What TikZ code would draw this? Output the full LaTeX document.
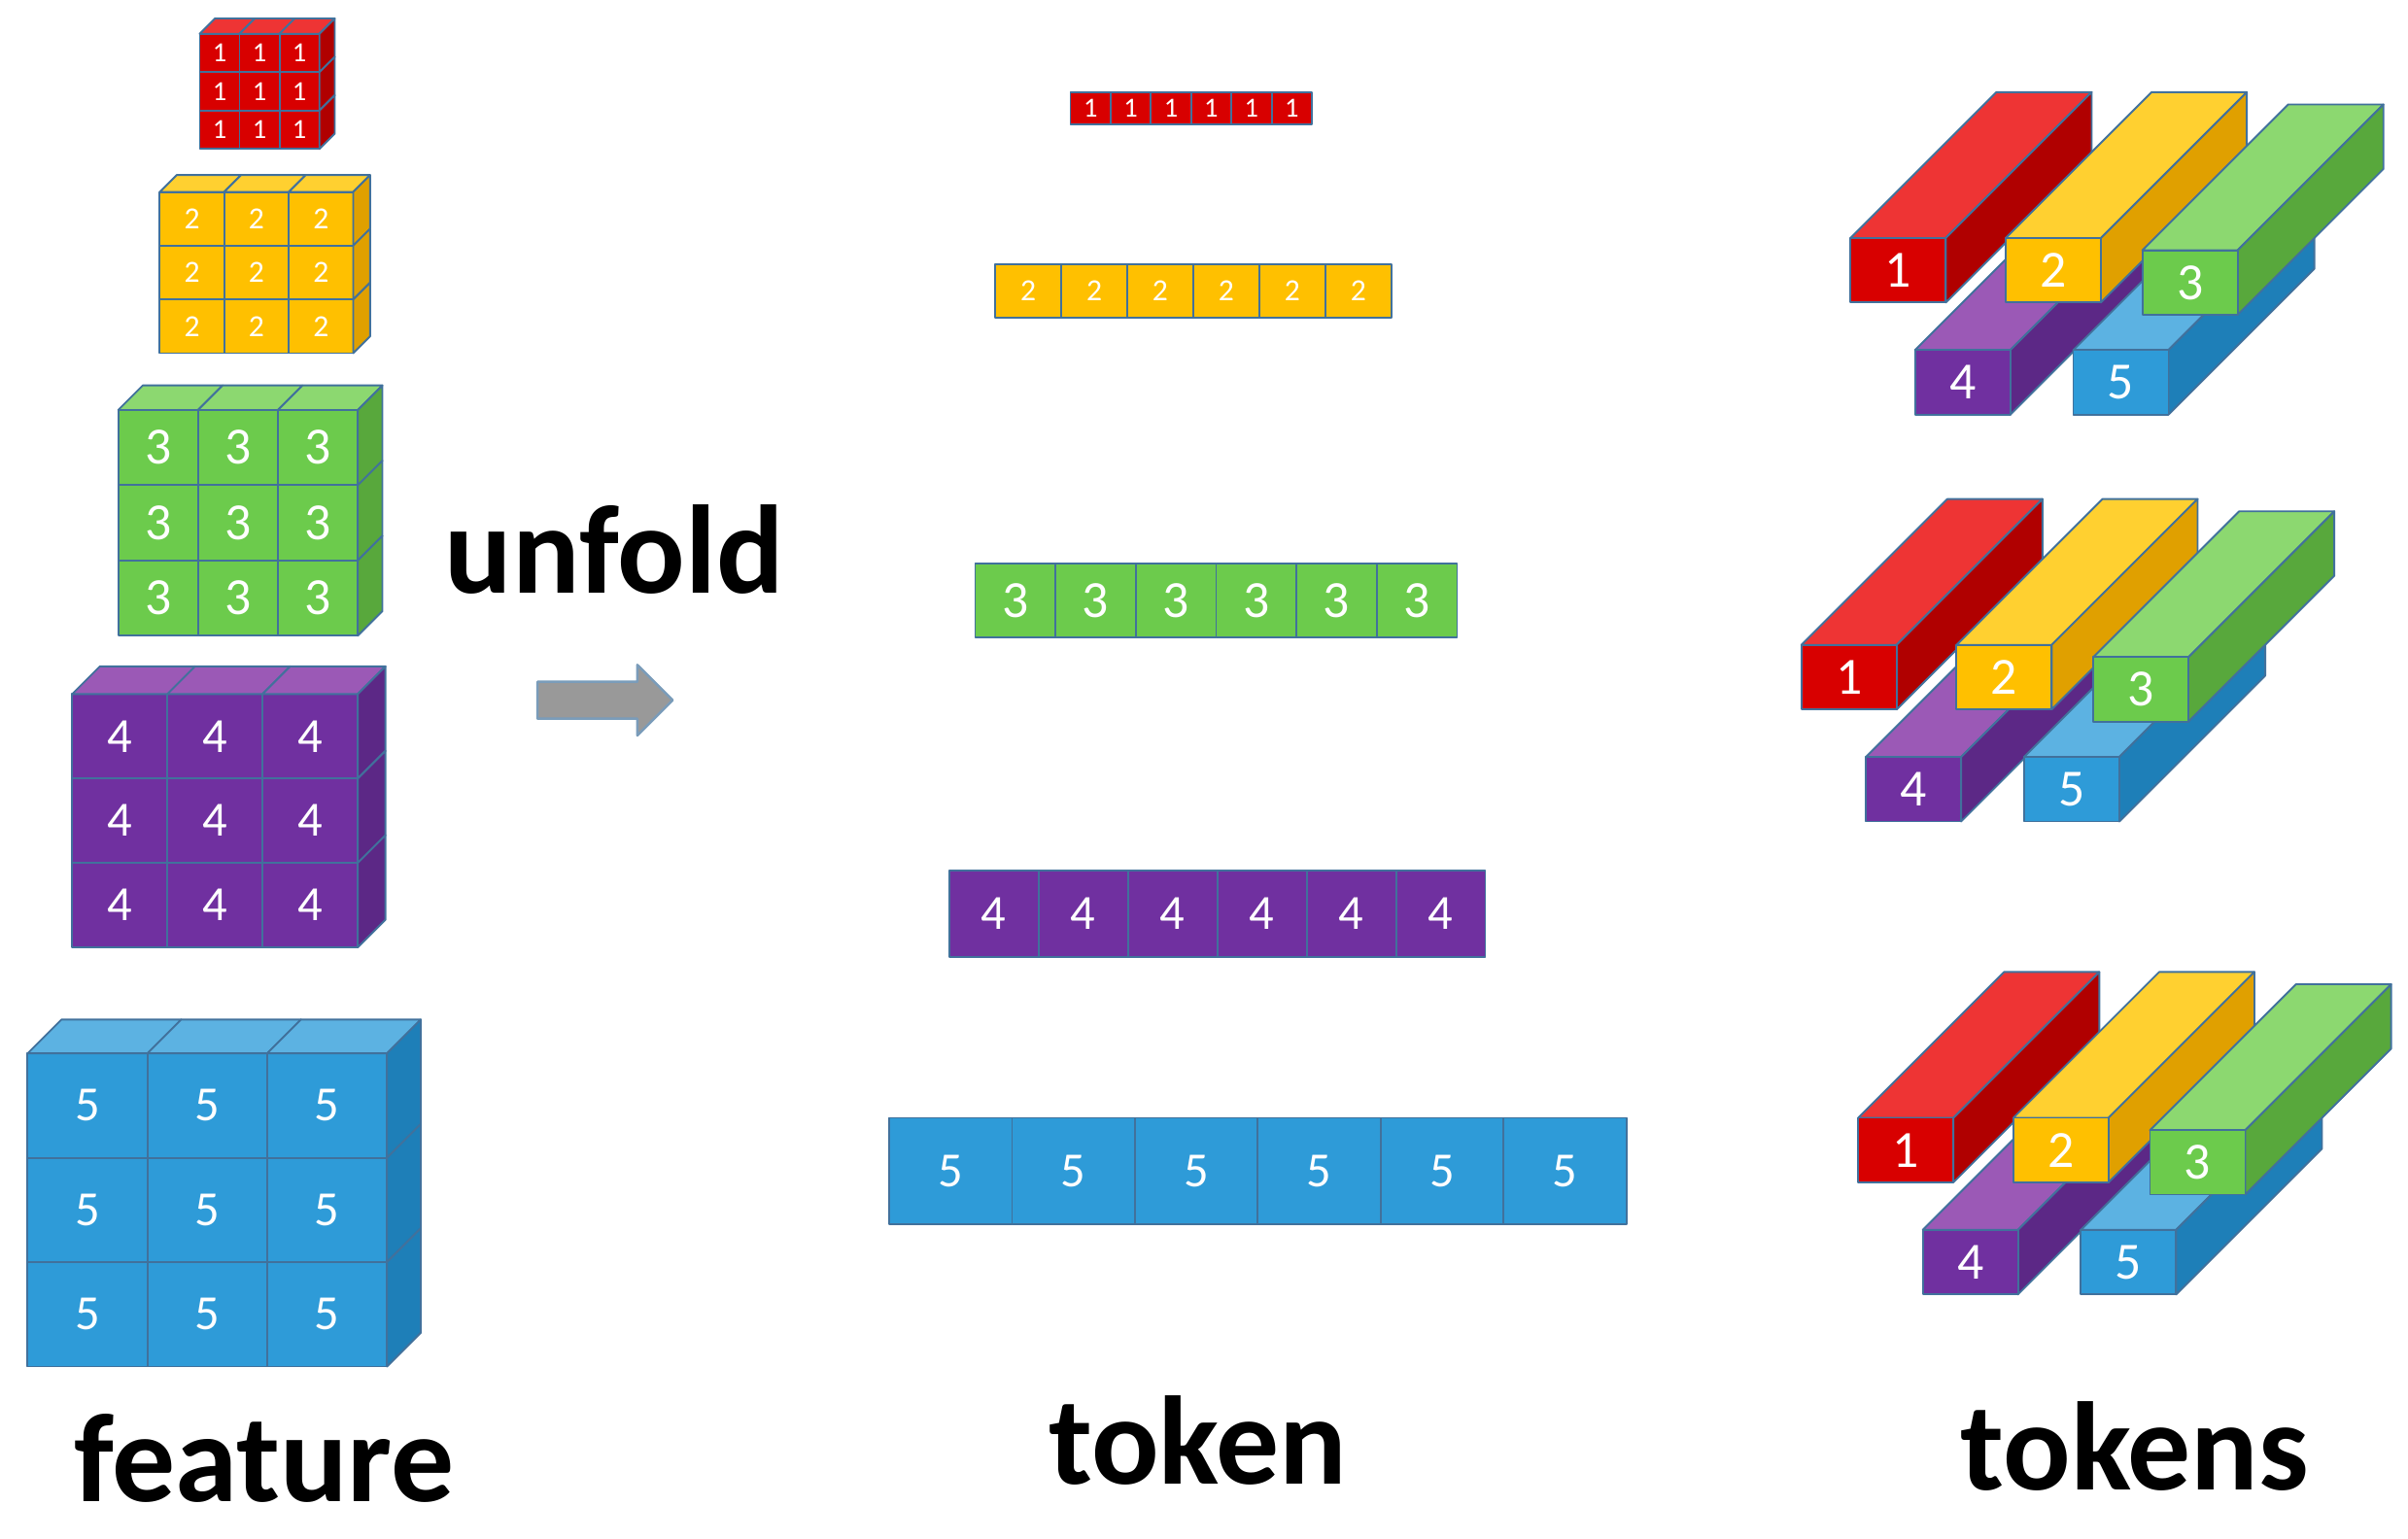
\documentclass[tikz,border=0pt]{standalone}
\usepackage{fontspec}
\setmainfont{Carlito}
\begin{document}
\begin{tikzpicture}[x=0.5pt,y=-0.5pt,line join=round,
  edge/.style={draw=edgec,line width=0.6pt},
  num/.style={text=white,inner sep=0pt},
  big/.style={font=\fontsize{41}{46}\selectfont\bfseries,inner sep=0pt}]
\definecolor{edgec}{HTML}{41719C}
\definecolor{rF}{HTML}{D80000}\definecolor{rT}{HTML}{EE3434}\definecolor{rS}{HTML}{B00000}
\definecolor{yF}{HTML}{FFC000}\definecolor{yT}{HTML}{FFD030}\definecolor{yS}{HTML}{E0A000}
\definecolor{gF}{HTML}{6CCB4C}\definecolor{gT}{HTML}{8CD870}\definecolor{gS}{HTML}{58A83C}
\definecolor{pF}{HTML}{7030A0}\definecolor{pT}{HTML}{9B59B6}\definecolor{pS}{HTML}{5C2886}
\definecolor{bF}{HTML}{2E9BD8}\definecolor{bT}{HTML}{5CB2E2}\definecolor{bS}{HTML}{1E7FB8}
\useasboundingbox (0,0) rectangle (1568,1002);
\newcommand\featcube[8]{%
 \foreach \i in {0,1,2}{\foreach \j in {0,1,2}{%
  \pgfmathsetmacro\xa{#1+\i*#3}\pgfmathsetmacro\ya{#2+\j*#4}%
  \draw[edge,fill=#6F] (\xa,\ya) rectangle ++(#3,#4);
  \node[num,font=\fontsize{#8}{#8}\selectfont] at (\xa+#3/2,\ya+#4/2) {#7};}}
 \foreach \i in {0,1,2}{\pgfmathsetmacro\xa{#1+\i*#3}%
  \draw[edge,fill=#6T] (\xa,#2) -- ++(#5,-#5) -- ++(#3,0) -- ++(-#5,#5) -- cycle;}
 \foreach \j in {0,1,2}{\pgfmathsetmacro\ya{#2+\j*#4}%
  \draw[edge,fill=#6S] (#1+3*#3,\ya) -- ++(#5,-#5) -- ++(0,#4) -- ++(-#5,#5) -- cycle;}}
\newcommand\tokrow[7]{%
 \foreach \i in {0,...,5}{\pgfmathsetmacro\xa{#1+\i*#3}%
  \draw[edge,fill=#5F] (\xa,#2) rectangle ++(#3,#4);
  \node[num,font=\fontsize{#7}{#7}\selectfont] at (\xa+#3/2,#2+#4/2) {#6};}}
\newcommand\tokbar[4]{%
 \draw[edge,fill=#3T] (#1,#2) -- ++(95,-95) -- ++(62,0) -- ++(-95,95) -- cycle;
 \draw[edge,fill=#3S] (#1+62,#2) -- ++(95,-95) -- ++(0,42) -- ++(-95,95) -- cycle;
 \draw[edge,fill=#3F] (#1,#2) rectangle ++(62,42);
 \node[num,font=\fontsize{17}{17}\selectfont] at (#1+31,#2+21) {#4};}
\newcommand\group[2]{%
 \tokbar{1247+#1}{228+#2}{p}{4}
 \tokbar{1350+#1}{228+#2}{b}{5}
 \tokbar{1205+#1}{155+#2}{r}{1}
 \tokbar{1306+#1}{155+#2}{y}{2}
 \tokbar{1395+#1}{163+#2}{g}{3}}
\featcube{130}{22}{26}{25}{10}{r}{1}{9}
\featcube{104}{125}{42}{35}{11}{y}{2}{10}
\featcube{77}{267}{52}{49}{16}{g}{3}{17}
\featcube{47}{452}{62}{55}{18}{p}{4}{16}
\featcube{18}{686}{78}{68}{22}{b}{5}{16}
\tokrow{697}{60}{26.2}{21}{r}{1}{9}
\tokrow{648}{172}{43}{35}{y}{2}{10}
\tokrow{635}{367}{52.3}{48}{g}{3}{17}
\tokrow{618}{567}{58.2}{56}{p}{4}{16}
\tokrow{579}{728}{80}{69}{b}{5}{16}
\group{0}{0}
\group{-32}{265}
\group{5}{573}
\draw[fill=black!40,draw=edgec!70,line width=0.8pt] (350,444) -- (415,444) -- (415,433) -- (438,456) -- (415,479) -- (415,468) -- (350,468) -- cycle;
\node[big] (u) at (400,358) {unfold};
\node[big] (f) at (172,950) {feature};
\node[big] (t) at (780,938) {token};
\node[big] (ts) at (1390,942) {tokens};
\end{tikzpicture}
\end{document}
